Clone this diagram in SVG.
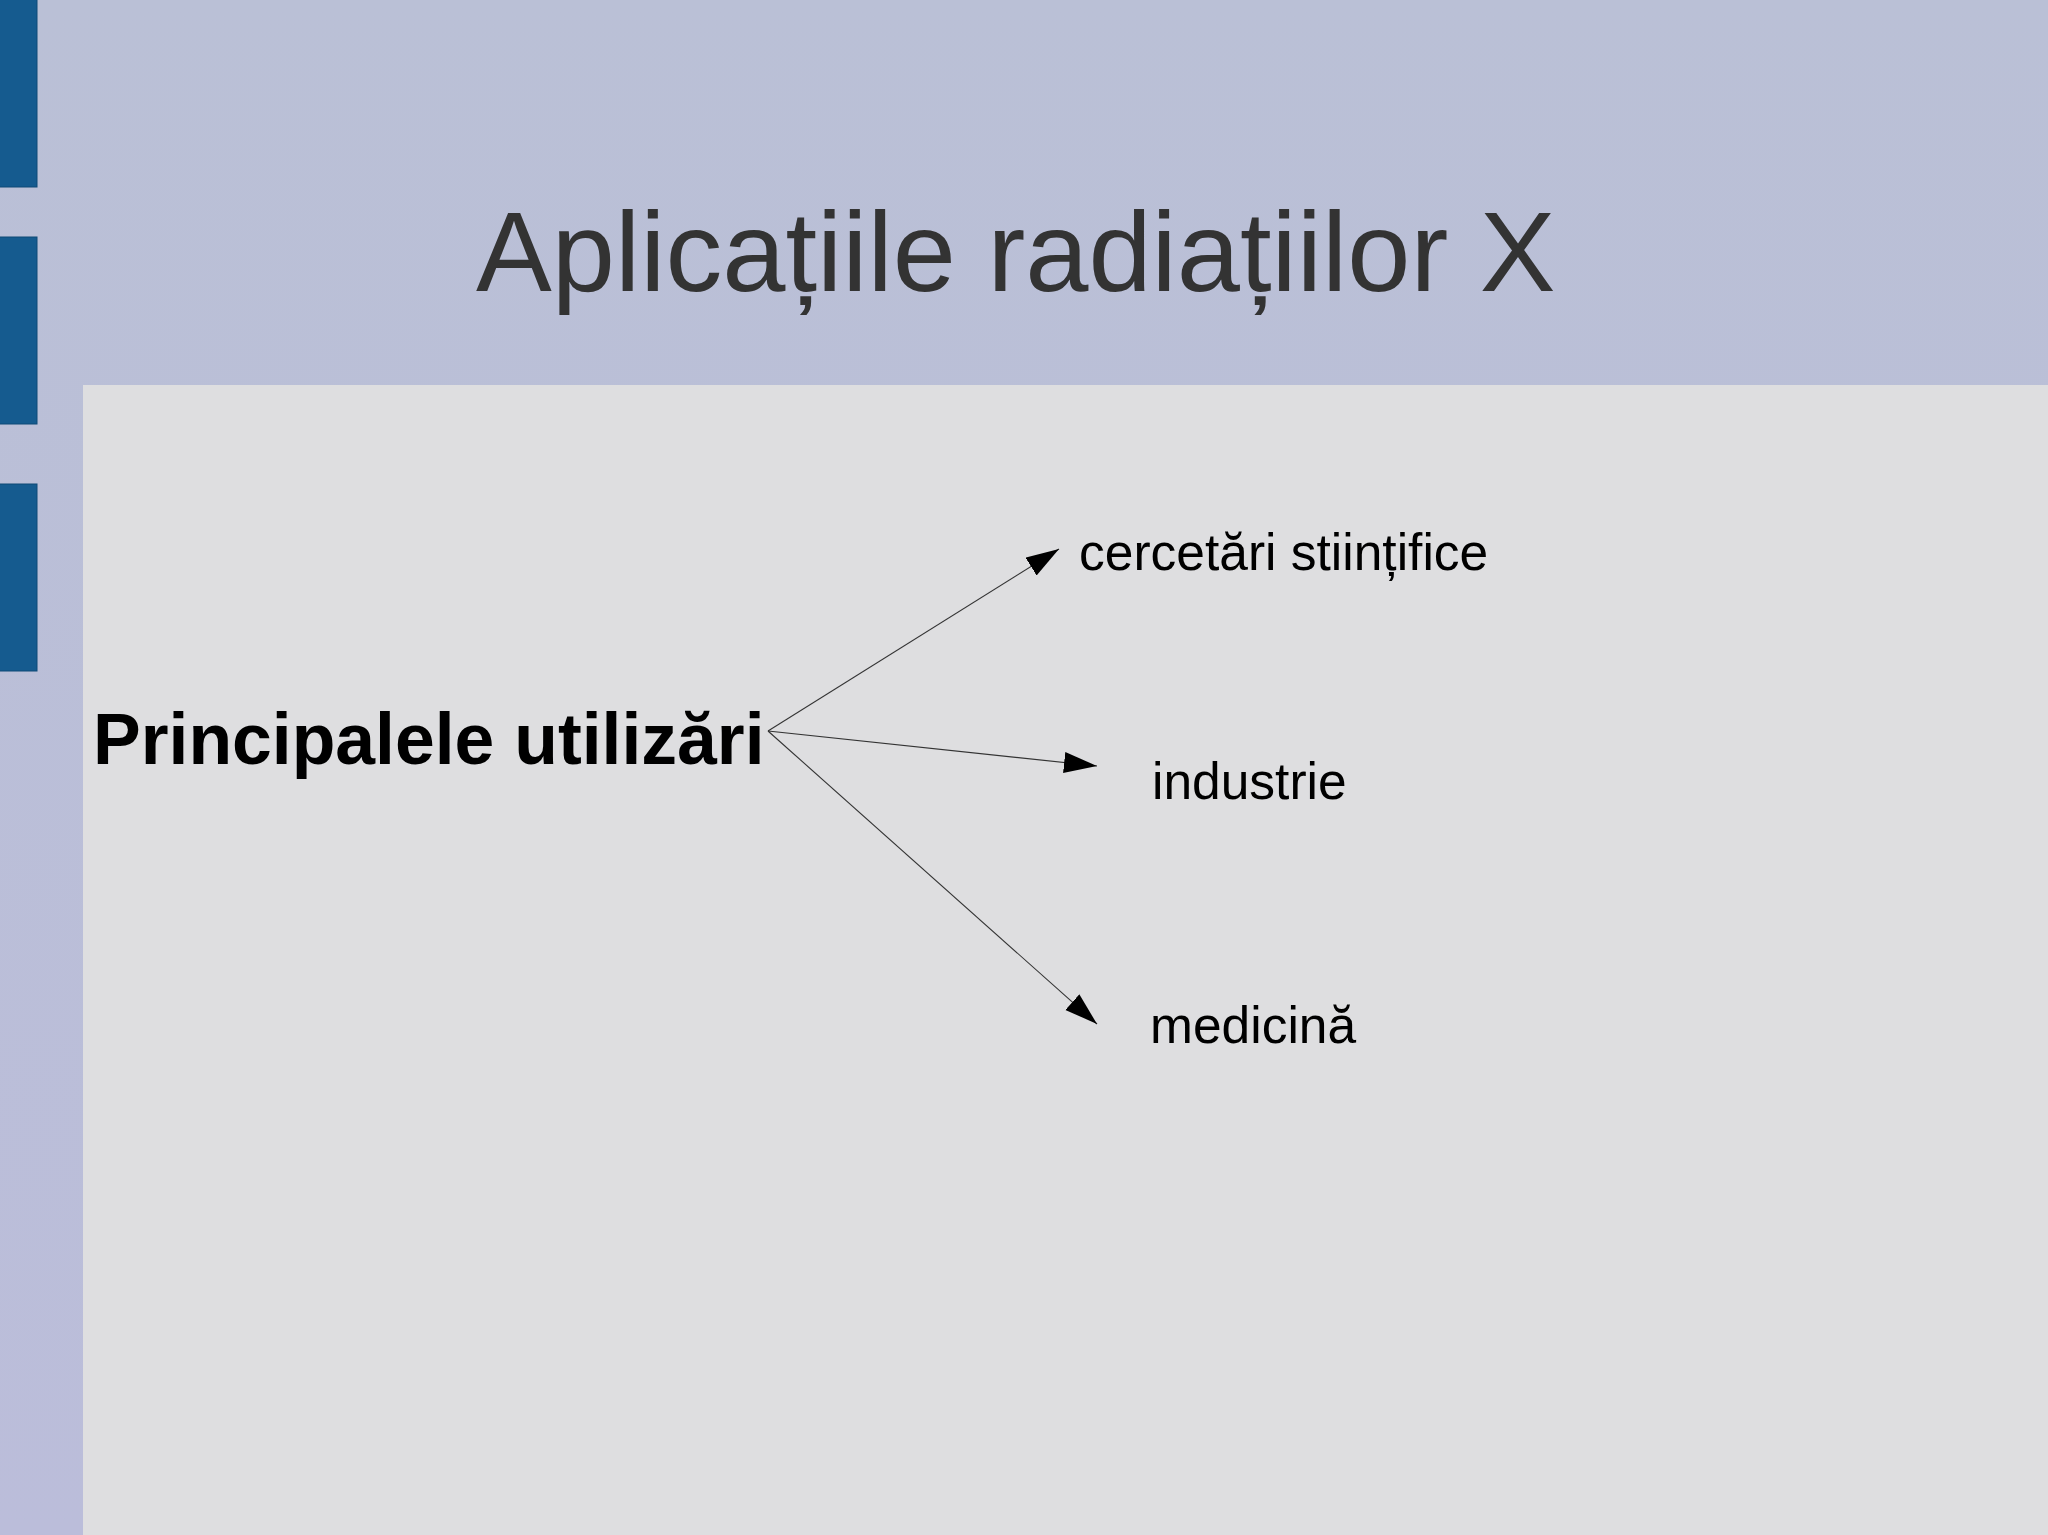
<svg xmlns="http://www.w3.org/2000/svg" width="2048" height="1535" viewBox="0 0 2048 1535">
  <defs>
    <linearGradient id="bg" x1="0" y1="0" x2="0" y2="1">
      <stop offset="0" stop-color="#bac0d6"/>
      <stop offset="1" stop-color="#bbbdda"/>
    </linearGradient>
    <marker id="arrow" markerUnits="userSpaceOnUse" markerWidth="34" markerHeight="22" refX="33" refY="10.5" orient="auto">
      <path d="M0,0 L33,10.5 L0,21 z" fill="#000"/>
    </marker>
    <style>
      .bar { fill: #155b8f; stroke: #0f4a77; stroke-width: 1; }
      .conn { stroke: #333; stroke-width: 1.1; fill: none; marker-end: url(#arrow); }
      .lbl { font-family: "Liberation Sans", Arial, sans-serif; font-size: 51.5px; fill: #000; }
    </style>
  </defs>
  <rect x="0" y="0" width="2048" height="1535" fill="url(#bg)"/>
  <rect x="83" y="385" width="1965" height="1150" fill="#dedee0"/>
  <g id="sidebar">
    <rect class="bar" x="-1" y="-1" width="38" height="188"/>
    <rect class="bar" x="-1" y="237" width="38" height="187"/>
    <rect class="bar" x="-1" y="484" width="38" height="187"/>
  </g>
  <g id="title">
    <text x="476" y="291" font-family="Liberation Sans, Arial, sans-serif" font-size="113.6" fill="#333333">Aplicațiile radiațiilor X</text>
  </g>
  <g id="connectors">
    <line class="conn" x1="768" y1="731" x2="1059" y2="549"/>
    <line class="conn" x1="768" y1="731" x2="1097" y2="766"/>
    <line class="conn" x1="768" y1="731" x2="1097" y2="1024"/>
  </g>
  <g id="node-principal">
    <text x="93" y="764" font-family="Liberation Sans, Arial, sans-serif" font-size="71.5" font-weight="bold" fill="#000">Principalele utilizări</text>
  </g>
  <g id="node-cercetari">
    <text class="lbl" x="1079" y="570">cercetări stiințifice</text>
  </g>
  <g id="node-industrie">
    <text class="lbl" x="1152" y="799">industrie</text>
  </g>
  <g id="node-medicina">
    <text class="lbl" x="1150" y="1043">medicină</text>
  </g>
</svg>
